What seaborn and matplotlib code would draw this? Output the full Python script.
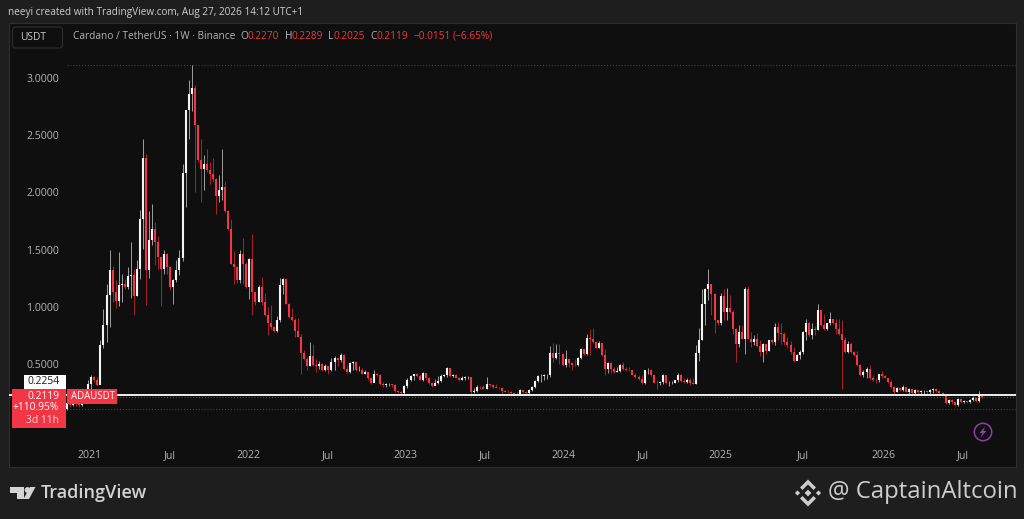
import numpy as np
import pandas as pd
import matplotlib
matplotlib.use("Agg")
import matplotlib.pyplot as plt
from matplotlib.patches import Rectangle, FancyBboxPatch, Polygon, Circle
import seaborn as sns

first_open = 0.11
closes = [
 .16,.15,.17,.16,.15,.17,.18,
 .333,.391,.362,.318,.667,.847,1.103,1.322,1.132,1.054,
 1.191,1.199,1.176,1.269,1.278,1.095,1.330,1.772,2.305,1.322,
 1.583,1.679,1.569,1.438,1.336,1.467,1.351,1.176,1.234,1.322,
 1.432,2.171,2.718,2.863,2.916,2.587,2.281,2.209,2.252,2.194,
 2.159,2.121,1.970,2.025,2.049,1.839,1.679,1.380,1.351,1.240,
 1.461,1.380,1.176,1.423,1.132,1.045,1.176,1.046,.929,.863,
 .822,.790,.886,1.197,1.249,1.031,.915,.886,.793,.740,
 .601,.543,.484,.575,.493,.490,.502,.455,.484,.450,
 .522,.560,.537,.580,.464,.435,.514,.522,.450,.455,
 .420,.435,.377,.339,.415,.406,.327,.319,.327,.333,
 .316,.266,.258,.252,.310,.368,.397,.412,.397,.368,
 .426,.377,.339,.310,.339,.357,.397,.409,.467,.397,
 .406,.383,.368,.380,.391,.391,.261,.269,.304,.301,
 .287,.327,.316,.304,.298,.295,.269,.261,.258,.252,
 .246,.244,.275,.258,.249,.275,.304,.351,.397,.397,
 .406,.410,.603,.56,.60,.595,.493,.545,.513,.499,
 .495,.557,.632,.595,.734,.723,.696,.647,.691,.580,
 .464,.513,.464,.435,.440,.493,.464,.455,.449,.411,
 .391,.371,.339,.449,.455,.406,.342,.339,.347,.406,
 .339,.339,.339,.362,.406,.356,.347,.368,.339,.333,
 .600,.711,1.031,1.162,1.200,1.118,.885,.862,1.098,.958,
 .996,.958,.813,.682,.784,.725,1.162,.725,.696,.720,
 .659,.609,.682,.618,.711,.697,.822,.775,.769,.697,
 .667,.609,.531,.580,.609,.784,.865,.755,.813,.804,
 .973,.842,.813,.857,.900,.857,.813,.769,.711,.609,
 .682,.609,.580,.493,.406,.435,.458,.377,.368,.362,
 .415,.397,.385,.348,.304,.260,.295,.275,.304,.260,
 .284,.252,.278,.260,.266,.269,.257,.275,.289,.266,
 .249,.240,.159,.188,.170,.147,.199,.176,.179,.170,
 .193,.208,.179,.227,.2119,
]
highs = [
 .18,.19,.19,.18,.18,.19,.22,
 .367,.405,.397,.390,.716,.987,1.205,1.496,1.356,1.234,
 1.479,1.292,1.249,1.351,1.569,1.336,1.415,1.845,2.470,2.334,
 1.839,1.897,1.743,1.618,1.438,1.502,1.473,1.356,1.249,1.409,
 1.502,2.252,2.724,2.979,3.110,2.936,2.587,2.465,2.325,2.383,
 2.267,2.305,2.130,2.151,2.383,2.101,1.845,1.767,1.490,1.356,
 1.496,1.604,1.394,1.432,1.641,1.132,1.190,1.264,1.119,1.002,
 1.017,.834,.921,1.255,1.258,1.255,1.037,.988,.909,.909,
 .761,.624,.566,.697,.676,.551,.531,.514,.502,.484,
 .560,.572,.551,.601,.589,.493,.522,.531,.531,.484,
 .470,.455,.438,.386,.450,.426,.420,.348,.339,.339,
 .333,.325,.275,.269,.316,.377,.406,.420,.426,.415,
 .435,.415,.386,.348,.375,.397,.415,.420,.473,.467,
 .420,.412,.391,.397,.400,.403,.391,.295,.316,.310,
 .316,.386,.333,.327,.327,.304,.301,.278,.275,.266,
 .258,.256,.284,.278,.266,.284,.313,.362,.404,.414,
 .420,.414,.659,.691,.682,.682,.60,.624,.551,.522,
 .545,.565,.647,.638,.769,.813,.819,.700,.705,.659,
 .638,.522,.522,.478,.478,.502,.522,.478,.478,.455,
 .429,.408,.405,.455,.467,.461,.414,.362,.356,.412,
 .397,.356,.356,.368,.426,.412,.380,.380,.380,.380,
 .673,.821,1.162,1.168,1.336,1.200,1.124,.891,1.124,1.162,
 1.170,1.104,.972,.818,.842,.842,1.175,1.182,.784,.755,
 .778,.717,.688,.682,.717,.726,.862,.868,.862,.784,
 .740,.700,.652,.595,.624,.793,.900,.871,.857,.833,
 1.031,.967,.944,.862,.958,.900,.892,.892,.886,.740,
 .705,.697,.618,.618,.502,.455,.473,.493,.406,.385,
 .420,.444,.406,.385,.368,.310,.304,.298,.322,.298,
 .292,.287,.284,.269,.275,.278,.272,.281,.298,.292,
 .278,.260,.246,.196,.196,.176,.205,.205,.193,.182,
 .202,.222,.217,.269,.2289,
]
lows = [
 .10,.13,.14,.14,.13,.14,.16,
 .289,.289,.347,.310,.338,.647,.696,.827,1.045,.996,
 1.010,1.045,1.162,1.162,1.083,.929,1.095,1.249,1.511,1.016,
 1.258,1.540,1.365,1.336,1.010,1.292,1.292,1.147,1.031,1.220,
 1.278,1.400,1.874,2.470,2.709,2.005,2.267,1.918,2.025,2.180,
 2.078,2.092,1.816,1.918,1.938,1.831,1.671,1.374,1.199,1.211,
 1.211,1.205,1.170,1.074,.929,1.016,1.045,1.017,.921,.755,
 .813,.784,.784,.871,1.113,1.026,.909,.880,.740,.735,
 .412,.537,.455,.484,.484,.435,.464,.444,.444,.415,
 .444,.455,.490,.522,.455,.426,.429,.455,.444,.444,
 .415,.415,.362,.333,.362,.397,.322,.304,.304,.310,
 .304,.258,.252,.240,.240,.298,.357,.368,.386,.362,
 .351,.368,.327,.304,.327,.333,.348,.386,.386,.386,
 .386,.377,.351,.368,.362,.374,.223,.252,.261,.287,
 .281,.281,.310,.298,.292,.287,.246,.255,.250,.245,
 .238,.238,.240,.252,.243,.246,.272,.298,.345,.344,
 .362,.370,.391,.522,.550,.505,.484,.478,.478,.455,
 .484,.484,.545,.586,.586,.580,.690,.640,.640,.575,
 .406,.429,.429,.429,.432,.435,.455,.443,.440,.405,
 .385,.365,.327,.333,.414,.400,.336,.289,.321,.327,
 .333,.310,.330,.335,.350,.350,.339,.342,.324,.327,
 .327,.528,.711,.842,1.066,.929,.775,.842,.842,.891,
 .891,.950,.769,.522,.653,.720,.595,.720,.653,.667,
 .653,.572,.522,.595,.618,.682,.667,.711,.682,.667,
 .645,.595,.522,.536,.551,.589,.711,.740,.726,.755,
 .804,.833,.804,.798,.842,.851,.763,.758,.284,.603,
 .600,.600,.572,.484,.397,.391,.385,.368,.356,.339,
 .348,.385,.377,.339,.298,.231,.257,.266,.269,.255,
 .246,.246,.243,.240,.240,.243,.246,.243,.249,.260,
 .243,.237,.153,.156,.153,.141,.141,.164,.159,.159,
 .164,.179,.170,.173,.2025,
]
y_ticks = [0.5, 1.0, 1.5, 2.0, 2.5, 3.0]
x_tick_weeks = [7.4, 33.7, 59.7, 85.7, 111.4, 137.4, 163.4, 189.4, 215.0, 242.2, 268.6, 294.6]
x_tick_labels = ["2021","Jul","2022","Jul","2023","Jul","2024","Jul","2025","Jul","2026","Jul"]
white_line = 0.2350
last_price = 0.2119
dotted_low = 0.109
dotted_high = 3.112

sns.set_theme(style="dark")
FONT = ["Open Sans", "DejaVu Sans"]
plt.rcParams["font.family"] = FONT

BG = "#1e1e1e"; PANE = "#0f0f0f"; UP = "#f4f4f4"; DOWN = "#f23645"
TXT = "#b2b5b8"
W, H = 1024, 519
fig = plt.figure(figsize=(W/100, H/100), dpi=100, facecolor=BG)
L, R, T, B = 9, 1016, 23, 467
ax = fig.add_axes([L/W, 1-B/H, (R-L)/W, (B-T)/H], facecolor=PANE)

n = len(closes)
opens = [first_open] + closes[:-1]
week = np.arange(n)
candles = pd.DataFrame({"week": week, "open": opens, "close": closes, "high": highs, "low": lows})
candles["dir"] = np.where(candles["close"] >= candles["open"], "up", "down")

wicks = candles.melt(id_vars=["week", "dir"], value_vars=["high", "low"], value_name="price")
bodies = candles.melt(id_vars=["week", "dir"], value_vars=["open", "close"], value_name="price")
sns.lineplot(data=wicks, x="week", y="price", units="week", hue="dir", estimator=None, ax=ax,
             palette={"up": "#9a9a9a", "down": "#a3202e"}, lw=0.72, legend=False,
             solid_capstyle="butt", sort=False, zorder=2)
sns.lineplot(data=bodies, x="week", y="price", units="week", hue="dir", estimator=None, ax=ax,
             palette={"up": UP, "down": DOWN}, lw=1.5, legend=False,
             solid_capstyle="butt", sort=False, zorder=3)

px = 3.04
ax.set_xlim((L-67)/px, (R-67)/px)
ax.set_ylim((421.7-B)/114.6, (421.7-T)/114.6)
ax.hlines(dotted_high, 0, ax.get_xlim()[1], color="#4a4a4a", lw=0.7, ls=(0, (1, 2)), zorder=1)
ax.hlines(dotted_low, 0, ax.get_xlim()[1], color="#4a4a4a", lw=0.7, ls=(0, (1, 2)), zorder=1)
ax.axhline(last_price, color="#b02a38", lw=0.7, ls=(0, (1, 2)), zorder=4)
ax.axhline(white_line, color="#efefef", lw=1.4, zorder=5)

ax.set_yticks(y_ticks, [f"{v:.4f}" for v in y_ticks])
ax.set_xticks(x_tick_weeks, x_tick_labels)
ax.tick_params(axis="y", direction="in", length=0, pad=-36, labelsize=7.6, labelcolor=TXT)
ax.tick_params(axis="x", direction="in", length=0, pad=-12.4, labelsize=7.6, labelcolor=TXT)
for lab in ax.get_yticklabels():
    lab.set_verticalalignment("center_baseline")
ax.set_xlabel(""); ax.set_ylabel("")
ax.grid(False)
for s in ax.spines.values():
    s.set_color("#2e2e2e"); s.set_linewidth(0.8)

ov = fig.add_axes([0, 0, 1, 1], facecolor="none", zorder=10)
ov.set_xlim(0, W); ov.set_ylim(H, 0); ov.axis("off")

def t(x, y, s, c=TXT, size=7.4, ha="left", **kw):
    ov.text(x, y, s, color=c, fontsize=size, ha=ha, va="center", **kw)

t(8, 13, "neeyi created with TradingView.com, Aug 27, 2026 14:12 UTC+1", "#cfcfcf", 7.2, fontweight="medium")
ov.add_patch(FancyBboxPatch((12.5, 27), 50, 21, boxstyle="round,pad=0,rounding_size=3", fc="none", ec="#2e2e2e", lw=0.8))
t(20, 37.5, "USDT", "#c8c8c8", 7.4)
t(73, 36.5, "Cardano / TetherUS · 1W · Binance", TXT, 7.3)
RED = "#f23645"
for x, s, c in [(240.5, "O", TXT), (248, "0.2270", RED), (284.5, "H", TXT), (291.5, "0.2289", RED),
                (328, "L", TXT), (333.5, "0.2025", RED), (370.5, "C", TXT), (376.5, "0.2119", RED),
                (414, "−0.0151", RED), (453, "(−6.65%)", RED)]:
    t(x, 36.5, s, c, 7.3)

ov.add_patch(Rectangle((24, 375), 42, 13.5, fc="white", ec="none"))
t(60, 382, "0.2254", "#131722", 7.4, ha="right")
ov.add_patch(Rectangle((12, 388.5), 54, 39.5, fc="#f23645", ec="none"))
t(59, 396.5, "0.2119", "white", 7.4, ha="right")
t(59, 408, "+110.95%", "white", 7.4, ha="right")
t(59, 420.5, "3d 11h", "#ffd5d9", 7.4, ha="right")
ov.add_patch(Rectangle((67, 389), 49.5, 14.5, fc="#f23645", ec="none"))
t(71, 396.5, "ADAUSDT", "white", 6.9)

# purple lightning button
ov.add_patch(Circle((983, 432), 8.7, fc="none", ec="#8f3fa6", lw=1.1))
ov.add_patch(Polygon([(985, 426.5), (979.5, 433), (982.5, 433), (980.5, 437.5), (986.5, 431), (983.5, 431)], fc="#8f3fa6", ec="none"))

# TradingView logo and name
LOGO = "#d4d4d4"
ov.add_patch(Polygon([(10, 487), (24, 487), (24, 499), (17, 499), (17, 492.5), (10, 492.5)], fc=LOGO, ec="none"))
ov.add_patch(Circle((27.5, 490), 2.9, fc=LOGO, ec="none"))
ov.add_patch(Polygon([(30, 487), (35.5, 487), (29, 499), (23.5, 499)], fc=LOGO, ec="none"))
t(41, 493, "TradingView", "#d4d4d4", 13.0, fontweight="semibold")

# Binance mark and watermark
WM = "#cdcdcd"
cx, cy = 808, 493
def diamond(x, y, r):
    ov.add_patch(Polygon([(x-r, y), (x, y-r), (x+r, y), (x, y+r)], fc=WM, ec="none"))
diamond(cx, cy, 3.4); diamond(cx-10.5, cy, 2.6); diamond(cx+10.5, cy, 2.6)
ov.add_patch(Polygon([(cx-8, cy-5.5), (cx, cy-13.5), (cx+8, cy-5.5), (cx+5.5, cy-3), (cx, cy-8.5), (cx-5.5, cy-3)], fc=WM, ec="none"))
ov.add_patch(Polygon([(cx-8, cy+5.5), (cx, cy+13.5), (cx+8, cy+5.5), (cx+5.5, cy+3), (cx, cy+8.5), (cx-5.5, cy+3)], fc=WM, ec="none"))
t(828, 492, "@ CaptainAltcoin", WM, 17.2)

fig.savefig("out.png", dpi=100, facecolor=BG)
